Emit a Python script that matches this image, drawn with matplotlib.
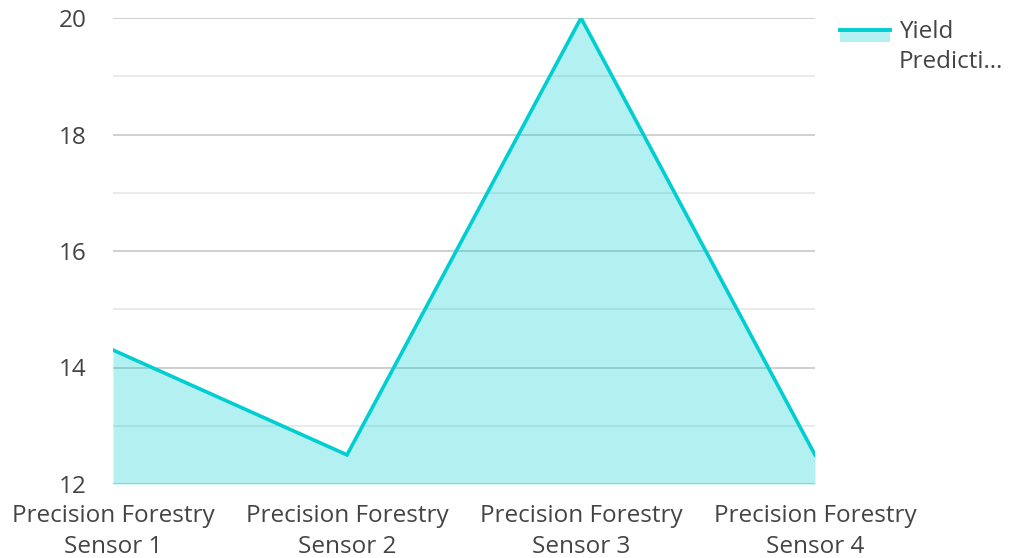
import matplotlib
matplotlib.use("Agg")
import matplotlib.pyplot as plt
from matplotlib.patches import Rectangle
from matplotlib.lines import Line2D

plt.rcParams['font.family'] = ['Open Sans', 'DejaVu Sans']

categories = ["Precision Forestry\nSensor 1", "Precision Forestry\nSensor 2",
              "Precision Forestry\nSensor 3", "Precision Forestry\nSensor 4"]
yield_prediction = [14.3, 12.5, 20.0, 12.5]
series_name = "Yield\nPredicti…"
major_ticks = [12, 14, 16, 18, 20]
minor_ticks = [13, 15, 17, 19]

line_color = "#00CED1"
text_color = "#444444"
font_size = 17.5

W, H = 1009, 558
fig = plt.figure(figsize=(W / 100, H / 100), dpi=100)
ax = fig.add_axes([113 / W, 1 - 484 / H, (815 - 113) / W, (484 - 18) / H])

x = list(range(len(categories)))

# gridlines first so the translucent area shows them through
for t in minor_ticks:
    ax.axhline(t, color="#e6e6e6", lw=1.2, zorder=0)
for t in major_ticks:
    ax.axhline(t, color="#c8c8c8", lw=1.2, zorder=0)

ax.fill_between(x, yield_prediction, 12, color=line_color, alpha=0.3, lw=0, zorder=1)
ax.plot(x, yield_prediction, color=line_color, lw=2.6, zorder=2, solid_joinstyle="miter")

ax.set_xlim(0, len(categories) - 1)
ax.set_ylim(12, 20)
ax.set_yticks(major_ticks)
ax.set_xticks(x)
ax.set_xticklabels(categories, linespacing=1.38)
ax.tick_params(axis="y", length=0, pad=19, labelsize=font_size, labelcolor=text_color)
ax.tick_params(axis="x", length=0, pad=14.5, labelsize=font_size, labelcolor=text_color)
for s in ax.spines.values():
    s.set_visible(False)

# legend key: a line over a swatch of the area colour
fig.patches.append(Rectangle((840 / W, 1 - 42 / H), 50 / W, 12 / H,
                             transform=fig.transFigure, facecolor=line_color,
                             alpha=0.3, lw=0))
fig.lines.append(Line2D([840 / W, 890 / W], [1 - 30 / H, 1 - 30 / H],
                        transform=fig.transFigure, color=line_color, lw=2.8))
fig.text(899 / W, 1 - 47 / H, series_name, fontsize=font_size, color=text_color,
         va="center", ha="left", linespacing=1.38)

fig.savefig("out.png", dpi=100)
